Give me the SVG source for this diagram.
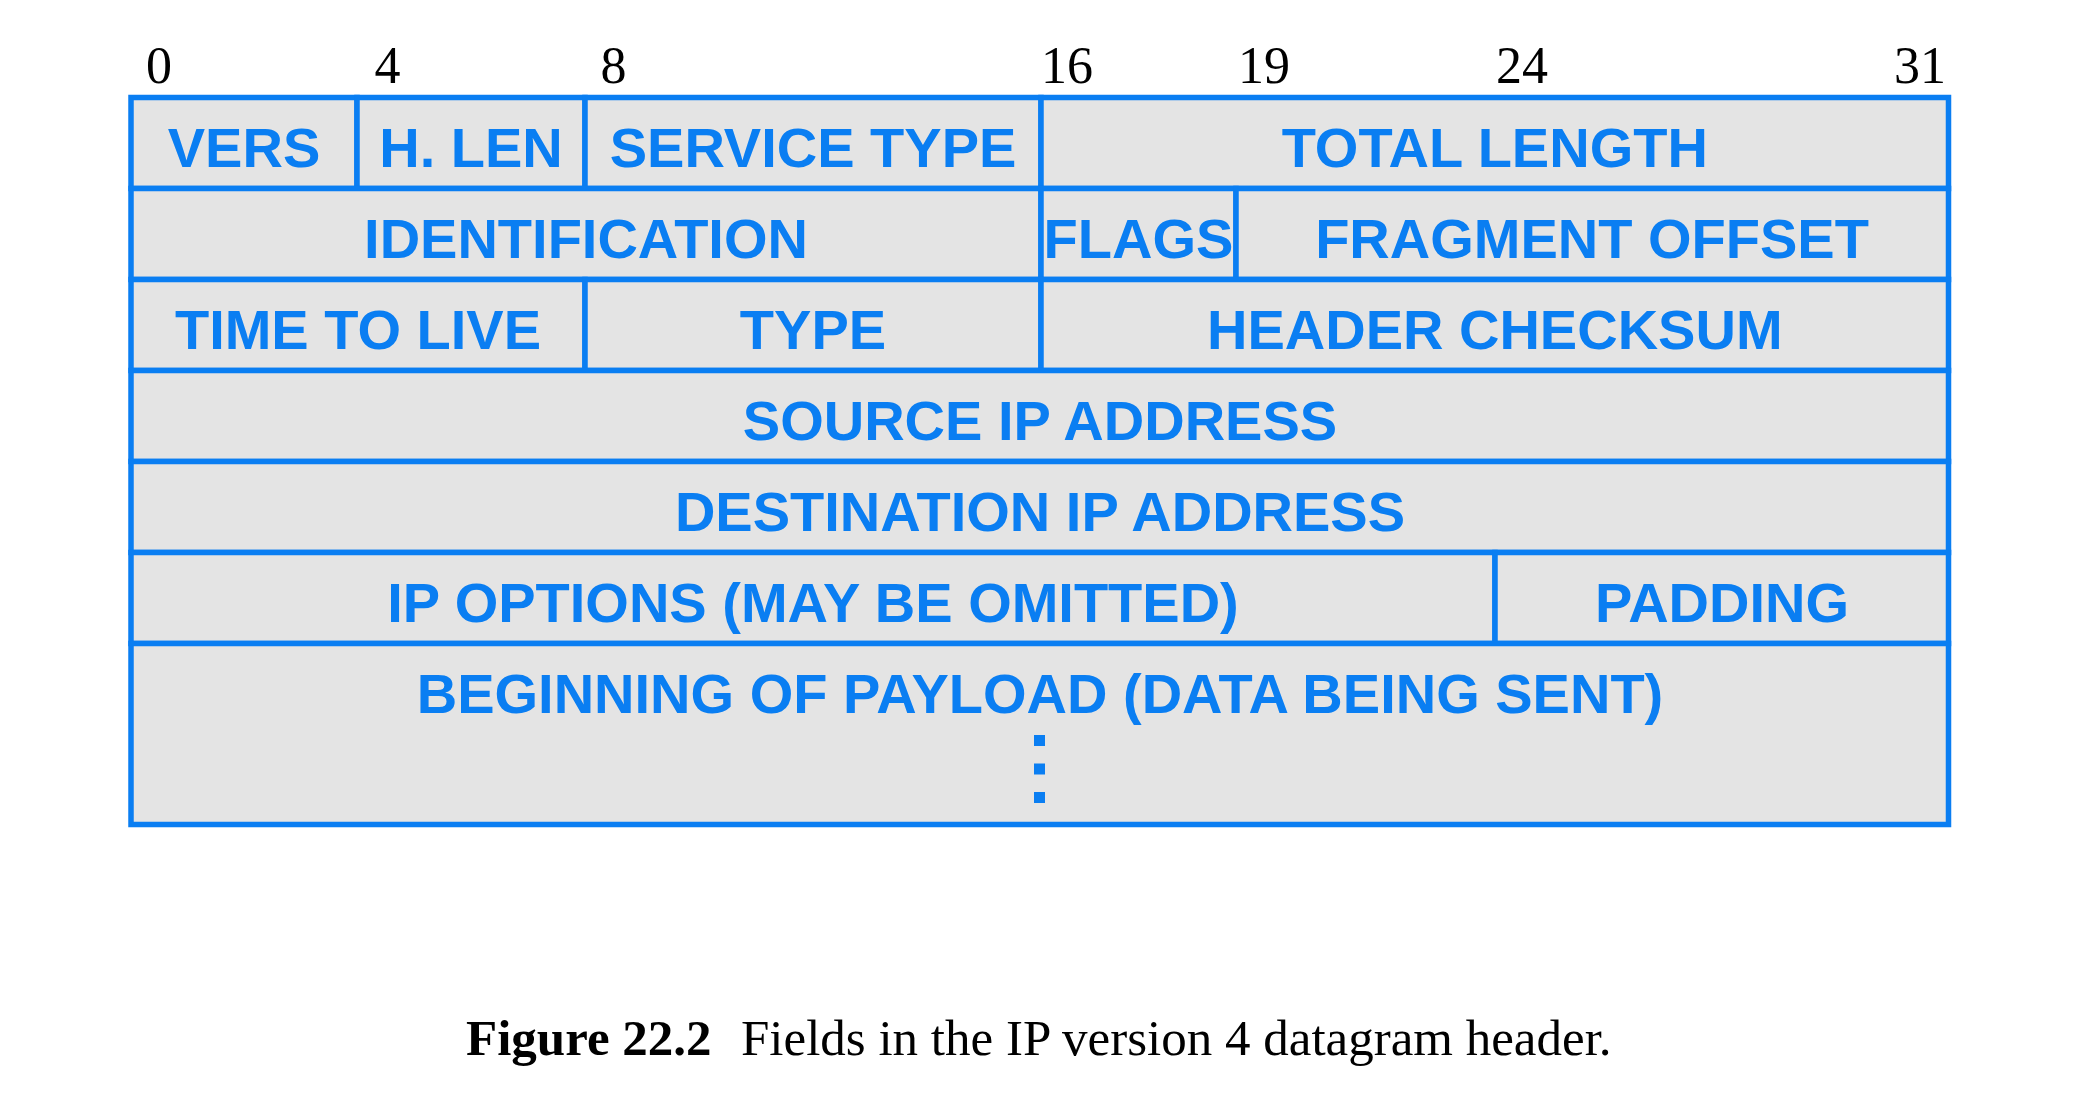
<svg xmlns="http://www.w3.org/2000/svg" width="2079" height="1110" viewBox="0 0 2079 1110">
<style>
  .cell { fill: #e4e4e4; stroke: #0a7ef2; stroke-width: 5.5; }
  .lbl { font-family: "Liberation Sans", Arial, sans-serif; font-weight: bold; font-size: 56px; fill: #0a7ef2; text-anchor: middle; }
  .bit { font-family: "Liberation Serif", "Times New Roman", serif; font-size: 52px; fill: #000; text-anchor: middle; }
  .dot { fill: #0a7ef2; }
  .capb { font-family: "Liberation Serif", "Times New Roman", serif; font-weight: bold; font-size: 51px; fill: #000; }
  .cap { font-family: "Liberation Serif", "Times New Roman", serif; font-size: 51px; fill: #000; }
</style>
<rect width="2079" height="1110" fill="#ffffff"/>

<g id="bit-scale">
  <text class="bit" x="159" y="83">0</text>
  <text class="bit" x="387.5" y="83">4</text>
  <text class="bit" x="613.5" y="83">8</text>
  <text class="bit" x="1067" y="83">16</text>
  <text class="bit" x="1264" y="83">19</text>
  <text class="bit" x="1522" y="83">24</text>
  <text class="bit" x="1920" y="83">31</text>
</g>

<g id="vers"><rect class="cell" x="131" y="97.5" width="226" height="91"/><text class="lbl" x="244" y="167">VERS</text></g>
<g id="hlen"><rect class="cell" x="357" y="97.5" width="228" height="91"/><text class="lbl" x="471" y="167">H. LEN</text></g>
<g id="service-type"><rect class="cell" x="585" y="97.5" width="456" height="91"/><text class="lbl" x="813" y="167">SERVICE TYPE</text></g>
<g id="total-length"><rect class="cell" x="1041" y="97.5" width="907.5" height="91"/><text class="lbl" x="1494.75" y="167">TOTAL LENGTH</text></g>

<g id="identification"><rect class="cell" x="131" y="188.5" width="910" height="91"/><text class="lbl" x="586" y="258">IDENTIFICATION</text></g>
<g id="flags"><rect class="cell" x="1041" y="188.5" width="195" height="91"/><text class="lbl" x="1138.5" y="258">FLAGS</text></g>
<g id="fragment-offset"><rect class="cell" x="1236" y="188.5" width="712.5" height="91"/><text class="lbl" x="1592" y="258">FRAGMENT OFFSET</text></g>

<g id="ttl"><rect class="cell" x="131" y="279.5" width="454" height="91"/><text class="lbl" x="358" y="349">TIME TO LIVE</text></g>
<g id="type"><rect class="cell" x="585" y="279.5" width="456" height="91"/><text class="lbl" x="813" y="349">TYPE</text></g>
<g id="header-checksum"><rect class="cell" x="1041" y="279.5" width="907.5" height="91"/><text class="lbl" x="1494.75" y="349">HEADER CHECKSUM</text></g>

<g id="source-ip"><rect class="cell" x="131" y="370.5" width="1817.5" height="91"/><text class="lbl" x="1040" y="440">SOURCE IP ADDRESS</text></g>

<g id="destination-ip"><rect class="cell" x="131" y="461.5" width="1817.5" height="91"/><text class="lbl" x="1040" y="531">DESTINATION IP ADDRESS</text></g>

<g id="ip-options"><rect class="cell" x="131" y="552.5" width="1364" height="91"/><text class="lbl" x="813" y="622">IP OPTIONS (MAY BE OMITTED)</text></g>
<g id="padding"><rect class="cell" x="1495" y="552.5" width="453.5" height="91"/><text class="lbl" x="1722" y="622">PADDING</text></g>

<g id="payload">
  <rect class="cell" x="131" y="643.5" width="1817.5" height="181"/>
  <text class="lbl" x="1040" y="713">BEGINNING OF PAYLOAD (DATA BEING SENT)</text>
  <rect class="dot" x="1034" y="735" width="11" height="11"/>
  <rect class="dot" x="1034" y="763.5" width="11" height="11"/>
  <rect class="dot" x="1034" y="792" width="11" height="11"/>
</g>

<g id="connectors"></g>

<g id="caption">
  <text class="capb" x="466" y="1055">Figure 22.2</text>
  <text class="cap" x="741" y="1055">Fields in the IP version 4 datagram header.</text>
</g>
</svg>
